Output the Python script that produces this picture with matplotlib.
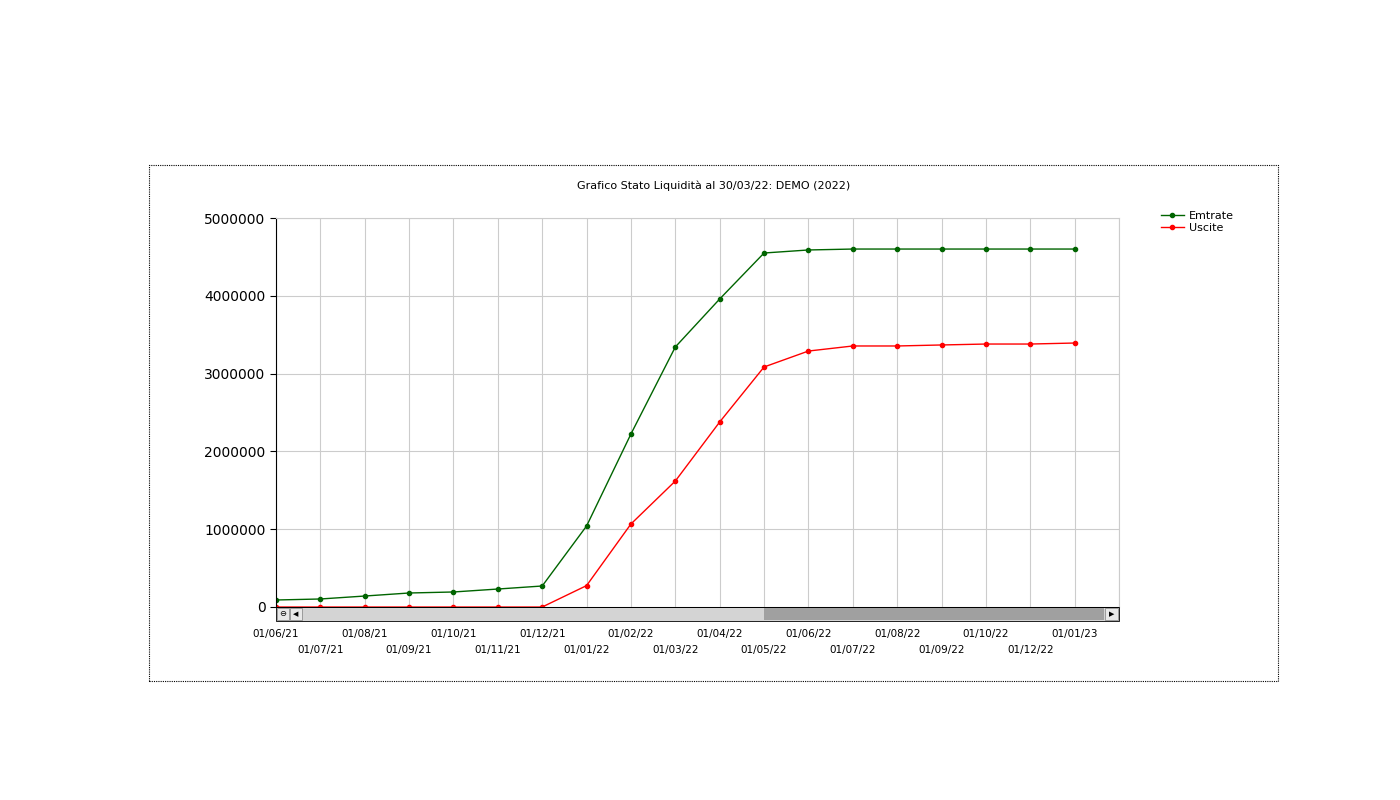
import matplotlib.pyplot as plt
from matplotlib.patches import Rectangle

dates = ["01/06/21", "01/07/21", "01/08/21", "01/09/21", "01/10/21", "01/11/21",
         "01/12/21", "01/01/22", "01/02/22", "01/03/22", "01/04/22", "01/05/22",
         "01/06/22", "01/07/22", "01/08/22", "01/09/22", "01/10/22", "01/12/22", "01/01/23"]
entrate = [90000, 103000, 141000, 180000, 193000, 231000, 270000, 1041000, 2224000,
           3342000, 3959000, 4550000, 4589000, 4601000, 4601000, 4601000, 4601000,
           4601000, 4601000]
uscite = [0, 0, 0, 0, 0, 0, 0, 275000, 1067000, 1619000, 2378000, 3085000, 3290000,
          3355000, 3355000, 3368000, 3380000, 3380000, 3393000]

fig = plt.figure(figsize=(14, 8), dpi=100)
W, H = 1400, 800

def fx(x): return x / W
def fy(y): return 1 - y / H

# dotted frame
fig.patches.append(Rectangle((fx(149), fy(681)), fx(1278) - fx(149), fy(165) - fy(681),
                             transform=fig.transFigure, fill=False, ls=(0, (1, 1)),
                             lw=0.8, ec="black"))
fig.text(0.5 * (fx(149) + fx(1278)), fy(186), "Grafico Stato Liquidità al 30/03/22: DEMO (2022)",
         ha="center", va="center", fontsize=8)

ax = fig.add_axes([fx(276), fy(607), fx(1119) - fx(276), fy(218) - fy(607)])
x = list(range(len(dates)))
ax.plot(x, entrate, color="#006400", lw=1, marker="o", ms=3, label="Emtrate")
ax.plot(x, uscite, color="red", lw=1, marker="o", ms=3, label="Uscite")
ax.set_xlim(0, 19)
ax.set_ylim(0, 5000000)
ax.set_yticks(range(0, 5000001, 1000000))
ax.set_yticklabels([str(v) for v in range(0, 5000001, 1000000)], fontsize=10)
ax.set_xticks(range(20))
ax.set_xticklabels([])
ax.tick_params(axis="x", length=0)
ax.tick_params(axis="y", length=4, color="black")
ax.grid(True, color="#cccccc", lw=0.8)
for s in ["top", "right", "bottom"]:
    ax.spines[s].set_color("#cccccc")
ax.spines["left"].set_color("black")
ax.legend(loc="upper left", bbox_to_anchor=(1.045, 1.03), frameon=False, fontsize=8,
          handlelength=2, borderaxespad=0, labelspacing=0.2, handletextpad=0.5)

# scrollbar
def rect(x0, y0, x1, y1, fc, ec="none", lw=0.5):
    fig.patches.append(Rectangle((fx(x0), fy(y1)), fx(x1) - fx(x0), fy(y0) - fy(y1),
                                 transform=fig.transFigure, fc=fc, ec=ec, lw=lw))
rect(276, 607, 1119, 621, "#d4d4d4", "black", 0.6)
rect(276, 607, 1119, 608, "black")
rect(764, 608, 1104, 620, "#a0a0a0")
rect(277, 608, 289, 620, "#e8e8e8", "#808080")
rect(290, 608, 302, 620, "#e8e8e8", "#808080")
rect(1105, 608, 1118, 620, "#e8e8e8", "#808080")
fig.text(fx(283), fy(614), "⊖", ha="center", va="center", fontsize=6)
fig.text(fx(296), fy(614), "◀", ha="center", va="center", fontsize=5)
fig.text(fx(1111.5), fy(614), "▶", ha="center", va="center", fontsize=5)

for i, d in enumerate(dates):
    xp = ax.transData.transform((i, 0))[0]
    fig.text(xp / W, fy(634 if i % 2 == 0 else 650), d, ha="center", va="center", fontsize=7.5)

fig.savefig("out.png")
